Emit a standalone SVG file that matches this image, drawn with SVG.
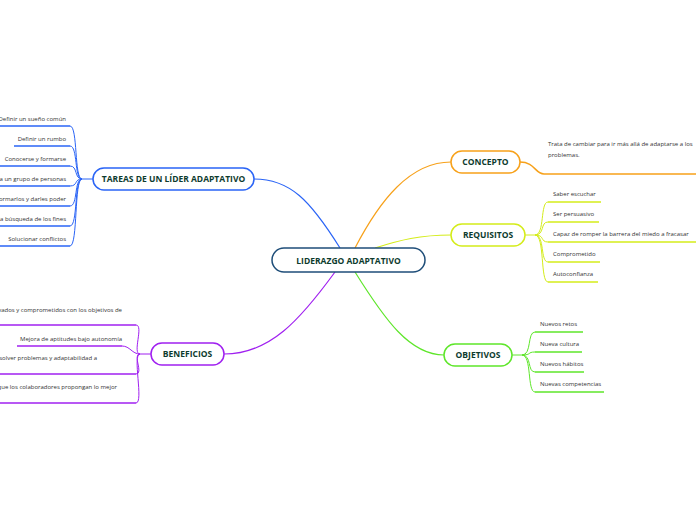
<svg xmlns="http://www.w3.org/2000/svg" width="696" height="520" viewBox="0 0 696 520">
<style>
.n{font-family:"Open Sans","Noto Sans",sans-serif;font-weight:bold;font-size:8.5px;fill:#0d3b2e;text-anchor:middle}
.t{font-family:"Open Sans","Noto Sans",sans-serif;font-size:6px;fill:#333}
.e{text-anchor:end}
path{fill:none}
</style>
<rect width="696" height="520" fill="#fff"/>
<g id="connectors" stroke-width="1.2">
<g stroke="#f7a11a">
<path d="M355,248 C380,200 410,162 451,162"/>
<path d="M520,162 C535,162 535,174 544,174 L696,174" stroke-width="1.5"/>
</g>
<g stroke="#d4ec1a">
<path d="M375,248 C400,240 420,235 451,235"/>
<g stroke-width="1"><path d="M525,235 L535,235 C545,235 540,202 548,202"/>
<path d="M535,235 C545,235 540,222 548,222"/>
<path d="M535,235 C545,235 540,242 548,242"/>
<path d="M535,235 C545,235 540,262 548,262"/>
<path d="M535,235 C545,235 540,282 548,282"/></g>
<g stroke-width="1.5"><path d="M548,202 H601"/><path d="M548,222 H599"/><path d="M548,242 H696"/><path d="M548,262 H600"/><path d="M548,282 H598"/></g>
</g>
<g stroke="#5ee62a">
<path d="M355,272 C385,320 410,355 444,355"/>
<g stroke-width="1"><path d="M512,355 L522,355 C532,355 527,332 535,332"/>
<path d="M522,355 C532,355 527,352 535,352"/>
<path d="M522,355 C532,355 527,372 535,372"/>
<path d="M522,355 C532,355 527,392 535,392"/></g>
<g stroke-width="1.5"><path d="M535,332 H583"/><path d="M535,352 H582"/><path d="M535,372 H584"/><path d="M535,392 H604"/></g>
</g>
<g stroke="#2a64f6">
<path d="M340,248 C310,200 290,179 254,179"/>
<g stroke-width="1"><path d="M93,179 L82,179 C74,179 78,126 70,126"/>
<path d="M82,179 C74,179 78,146 70,146"/>
<path d="M82,179 C74,179 78,166 70,166"/>
<path d="M82,179 C74,179 78,186 70,186"/>
<path d="M82,179 C74,179 78,206 70,206"/>
<path d="M82,179 C74,179 78,226 70,226"/>
<path d="M82,179 C74,179 78,246 70,246"/></g>
<g stroke-width="1.5"><path d="M0,126 H70"/><path d="M14,146 H70"/><path d="M0,166 H70"/><path d="M0,186 H70"/><path d="M0,206 H70"/><path d="M0,226 H70"/><path d="M0,246 H70"/></g>
</g>
<g stroke="#a020f0">
<path d="M335,272 C300,320 270,354 224,354"/>
<g stroke-width="1"><path d="M151,354 L140,354 C132,354 144,325 136,325"/>
<path d="M140,354 C132,354 130,346 122,346"/>
<path d="M140,354 C132,354 144,374 136,374"/>
<path d="M140,354 C132,354 144,403 136,403"/></g>
<g stroke-width="1.5"><path d="M0,325 H136"/><path d="M17,346 H122"/><path d="M0,374 H136"/><path d="M0,403 H136"/></g>
</g>
</g>
<g id="central"><rect x="272" y="248" width="153" height="24" rx="12" fill="#fff" stroke="#1f4e79" stroke-width="1.5"/><text class="n" x="348.5" y="264" font-size="9">LIDERAZGO ADAPTATIVO</text></g>
<g id="concepto"><rect x="451" y="151" width="69" height="22" rx="11" fill="#fff" stroke="#f7a11a" stroke-width="1.5"/><text class="n" x="485.5" y="165">CONCEPTO</text>
<text class="t" x="548" y="146">Trata de cambiar para ir más allá de adaptarse a los</text><text class="t" x="548" y="157">problemas.</text></g>
<g id="requisitos"><rect x="451" y="224" width="74" height="22" rx="11" fill="#fff" stroke="#d4ec1a" stroke-width="1.5"/><text class="n" x="488" y="238">REQUISITOS</text>
<text class="t" x="553" y="196">Saber escuchar</text><text class="t" x="553" y="216">Ser persuasivo</text><text class="t" x="553" y="236">Capaz de romper la barrera del miedo a fracasar</text><text class="t" x="553" y="256">Comprometido</text><text class="t" x="553" y="276">Autoconfianza</text></g>
<g id="objetivos"><rect x="444" y="344" width="68" height="22" rx="11" fill="#fff" stroke="#5ee62a" stroke-width="1.5"/><text class="n" x="478" y="358">OBJETIVOS</text>
<text class="t" x="540" y="326">Nuevos retos</text><text class="t" x="540" y="346">Nueva cultura</text><text class="t" x="540" y="366">Nuevos hábitos</text><text class="t" x="540" y="386">Nuevas competencias</text></g>
<g id="tareas"><rect x="93" y="168" width="161" height="22" rx="11" fill="#fff" stroke="#2a64f6" stroke-width="1.5"/><text class="n" x="173.5" y="182">TAREAS DE UN LÍDER ADAPTATIVO</text>
<text class="t e" x="66" y="121">Definir un sueño común</text><text class="t e" x="66" y="141">Definir un rumbo</text><text class="t e" x="66" y="161">Conocerse y formarse</text><text class="t e" x="66" y="181">Convertir en equipo a un grupo de personas</text><text class="t e" x="66" y="201">Empoderarlos: formarlos y darles poder</text><text class="t e" x="66" y="221">Comprometerse en la búsqueda de los fines</text><text class="t e" x="66" y="241">Solucionar conflictos</text></g>
<g id="beneficios"><rect x="151" y="343" width="73" height="22" rx="11" fill="#fff" stroke="#a020f0" stroke-width="1.5"/><text class="n" x="187.5" y="357">BENEFICIOS</text>
<text class="t e" x="122" y="312">Colaboradores motivados y comprometidos con los objetivos de</text><text class="t e" x="122" y="341">Mejora de aptitudes bajo autonomía</text><text class="t e" x="97" y="360">Capacidad para resolver problemas y adaptabilidad a</text><text class="t e" x="117" y="389">Se promueve que los colaboradores propongan lo mejor</text></g>
</svg>
